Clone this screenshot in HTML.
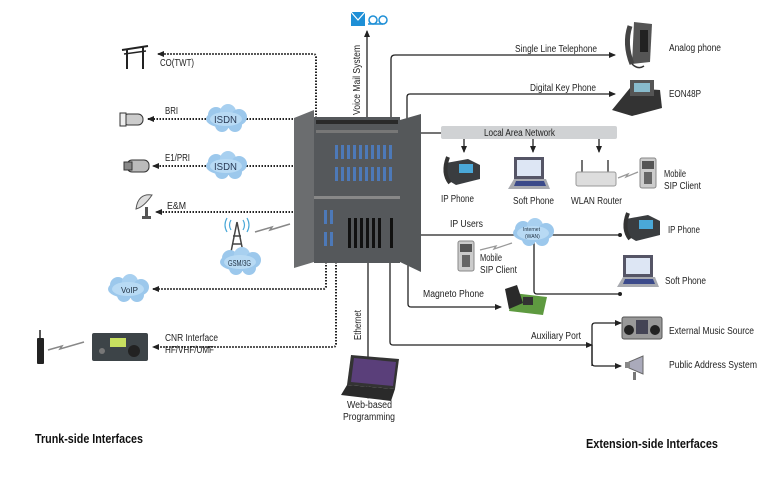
<!DOCTYPE html>
<html><head><meta charset="utf-8">
<style>
html,body{margin:0;padding:0;background:#fff;}
svg{display:block;}
text{font-family:"Liberation Sans",sans-serif;font-size:10px;fill:#222;}
.b{font-weight:bold;font-size:12.5px;fill:#111;}
.dot{stroke:#222;stroke-width:2;stroke-dasharray:1.5 1.5;fill:none;}
.ln{stroke:#222;stroke-width:1.3;fill:none;}
</style></head><body>
<svg width="768" height="477" viewBox="0 0 768 477" xmlns="http://www.w3.org/2000/svg">
<defs>
<marker id="a" markerUnits="userSpaceOnUse" markerWidth="7" markerHeight="6" refX="6" refY="3" orient="auto"><path d="M0,0 L7,3 L0,6z" fill="#222"/></marker>
<g id="cloud"><ellipse cx="0" cy="0" rx="20" ry="9" fill="#9cc8ec"/><circle cx="-10" cy="-4" r="8" fill="#9cc8ec"/><circle cx="2" cy="-7" r="8" fill="#a8d0f0"/><circle cx="13" cy="-2" r="8" fill="#9cc8ec"/><circle cx="-4" cy="6" r="7" fill="#9cc8ec"/><circle cx="9" cy="6" r="7" fill="#9cc8ec"/><ellipse cx="0" cy="0" rx="16" ry="7" fill="#b8daf4"/></g>
<g id="desk"><path d="M0,8 L22,4 L34,10 L34,24 L10,30 L0,24z" fill="#3a3d40"/><rect x="13" y="9" width="14" height="9" fill="#4aa8d8"/><path d="M2,2 Q-4,18 4,28" stroke="#333" stroke-width="4" fill="none"/></g>
<g id="lap"><rect x="6" y="0" width="30" height="22" fill="#556" /><rect x="9" y="3" width="24" height="16" fill="#dde6f4"/><path d="M0,32 L6,22 L38,22 L42,32z" fill="#a8aab0"/><path d="M8,24 L36,24 L38,29 L6,29z" fill="#3b4a8a"/></g>
<g id="mob"><rect x="0" y="0" width="16" height="30" rx="2" fill="#ccc" stroke="#888"/><rect x="2" y="3" width="12" height="8" fill="#555"/><rect x="4" y="14" width="8" height="12" fill="#666"/></g>
</defs>

<!-- Voice mail icon -->
<rect x="351" y="12" width="14" height="14" fill="#1e8fd6"/>
<path d="M351,12 L358,20 L365,12" stroke="#fff" stroke-width="1.2" fill="none"/>
<circle cx="373" cy="20" r="4" fill="none" stroke="#1e8fd6" stroke-width="1.5"/>
<circle cx="383" cy="20" r="4" fill="none" stroke="#1e8fd6" stroke-width="1.5"/>
<line x1="368" y1="24" x2="383" y2="24" stroke="#1e8fd6" stroke-width="1.5"/>
<path class="ln" d="M367,118 L367,31" marker-end="url(#a)"/>
<text transform="translate(360,115) rotate(-90)" textLength="70" lengthAdjust="spacingAndGlyphs">Voice Mail System</text>

<!-- trunk side lines -->
<path class="dot" d="M316,118 L316,57 Q316,54 313,54 L158,54" marker-end="url(#a)"/>
<g transform="translate(122,46)"><line x1="0" y1="4" x2="26" y2="0" stroke="#222" stroke-width="2"/><line x1="2" y1="8" x2="24" y2="5" stroke="#222" stroke-width="1.5"/><line x1="5" y1="3" x2="5" y2="23" stroke="#222" stroke-width="2"/><line x1="21" y1="1" x2="21" y2="23" stroke="#222" stroke-width="2"/></g>
<text x="160" y="66" textLength="34" lengthAdjust="spacingAndGlyphs">CO(TWT)</text>

<path class="dot" d="M308,119 L148,119" marker-end="url(#a)"/>
<g transform="translate(120,112)"><rect x="3" y="2" width="20" height="11" rx="5" fill="#ccc" stroke="#333"/><rect x="0" y="1" width="6" height="13" fill="#eee" stroke="#333"/></g>
<text x="165" y="114" textLength="13" lengthAdjust="spacingAndGlyphs">BRI</text>
<use href="#cloud" x="226" y="119"/>
<text x="214" y="123" textLength="23" lengthAdjust="spacingAndGlyphs" style="fill:#2a3a55">ISDN</text>

<path class="dot" d="M296,166 L153,166" marker-end="url(#a)"/>
<g transform="translate(124,159)"><rect x="3" y="1" width="22" height="12" rx="5" fill="#bbb" stroke="#333"/><rect x="0" y="3" width="8" height="8" fill="#888" stroke="#333"/></g>
<text x="165" y="161" textLength="25" lengthAdjust="spacingAndGlyphs">E1/PRI</text>
<use href="#cloud" x="226" y="166"/>
<text x="214" y="170" textLength="23" lengthAdjust="spacingAndGlyphs" style="fill:#2a3a55">ISDN</text>

<path class="dot" d="M296,212 L156,212" marker-end="url(#a)"/>
<g transform="translate(134,195)"><path d="M2,14 Q4,-2 18,0 Q10,12 2,14z" fill="#ddd" stroke="#555"/><rect x="11" y="12" width="3" height="10" fill="#555"/><rect x="8" y="21" width="9" height="3" fill="#555"/></g>
<text x="167" y="209" textLength="19" lengthAdjust="spacingAndGlyphs">E&amp;M</text>

<!-- GSM -->
<g transform="translate(237,222)"><path d="M0,0 L-6,30 M0,0 L6,30 M-4,14 L4,14 M-5,22 L5,22" stroke="#444" stroke-width="1.5" fill="none"/><path d="M-6,-2 Q-9,3 -6,8 M6,-2 Q9,3 6,8 M-10,-4 Q-14,3 -10,10 M10,-4 Q14,3 10,10" stroke="#4aa8d8" stroke-width="1.2" fill="none"/></g>
<path d="M255,232 L272,227 L270,230 L290,224" stroke="#888" stroke-width="1.5" fill="none"/>
<use href="#cloud" x="240" y="262"/>
<text x="228" y="266" textLength="23" lengthAdjust="spacingAndGlyphs" style="font-size:8px;fill:#234">GSM/3G</text>

<path class="dot" d="M326,262 L326,286 Q326,289 323,289 L153,289" marker-end="url(#a)"/>
<use href="#cloud" x="128" y="289"/>
<text x="121" y="293" style="font-size:8px;fill:#234">VoIP</text>

<path class="dot" d="M336,262 L336,344 Q336,347 333,347 L153,347" marker-end="url(#a)"/>
<text x="165" y="341" textLength="53" lengthAdjust="spacingAndGlyphs">CNR Interface</text>
<text x="165" y="353" textLength="49" lengthAdjust="spacingAndGlyphs">HF/VHF/UMF</text>
<g transform="translate(92,333)"><rect x="0" y="0" width="56" height="28" rx="2" fill="#3d4448"/><rect x="18" y="5" width="16" height="9" fill="#c8e060"/><circle cx="42" cy="18" r="6" fill="#222"/><circle cx="10" cy="18" r="3" fill="#777"/></g>
<g transform="translate(37,330)"><rect x="0" y="8" width="7" height="26" rx="1" fill="#222"/><line x1="3" y1="0" x2="3" y2="8" stroke="#222" stroke-width="1.5"/></g>
<path d="M48,350 L62,346 L60,349 L84,342" stroke="#888" stroke-width="1.5" fill="none"/>

<!-- Ethernet -->
<path class="ln" d="M368,262 L368,398" marker-end="url(#a)"/>
<text transform="translate(361,340) rotate(-90)" textLength="30" lengthAdjust="spacingAndGlyphs">Ethernet</text>
<g transform="translate(347,355)"><path d="M4,0 L52,4 L48,34 L0,30z" fill="#333"/><path d="M7,3 L49,7 L46,31 L4,27z" fill="#5a3f7a"/><path d="M0,30 L48,34 L44,46 L-6,40z" fill="#2a2a2a"/></g>
<text x="347" y="408" textLength="45" lengthAdjust="spacingAndGlyphs">Web-based</text>
<text x="343" y="420" textLength="52" lengthAdjust="spacingAndGlyphs">Programming</text>

<!-- Extension lines -->
<path class="ln" d="M391,118 L391,59 Q391,55 395,55 L615,55" marker-end="url(#a)"/>
<text x="515" y="52" textLength="82" lengthAdjust="spacingAndGlyphs">Single Line Telephone</text>
<g transform="translate(628,22)"><path d="M6,0 L24,2 L22,40 L4,42z" fill="#555"/><path d="M2,4 Q-4,22 4,42" stroke="#444" stroke-width="5" fill="none"/><rect x="12" y="8" width="8" height="22" fill="#222"/><path d="M4,42 Q10,48 16,44" stroke="#333" stroke-width="1.5" fill="none"/></g>
<text x="669" y="51" textLength="52" lengthAdjust="spacingAndGlyphs">Analog phone</text>

<path class="ln" d="M407,120 L407,97 Q407,94 410,94 L615,94" marker-end="url(#a)"/>
<text x="530" y="91" textLength="66" lengthAdjust="spacingAndGlyphs">Digital Key Phone</text>
<g transform="translate(612,80)"><path d="M0,30 L18,8 L48,10 L50,28 L20,36z" fill="#333"/><rect x="18" y="0" width="24" height="16" fill="#555"/><rect x="22" y="3" width="16" height="9" fill="#8bc"/></g>
<text x="669" y="97" textLength="32" lengthAdjust="spacingAndGlyphs">EON48P</text>

<path class="ln" d="M420,133 L441,133"/>
<rect x="441" y="126" width="176" height="13" rx="2" fill="#d0d2d4"/>
<text x="484" y="136" textLength="71" lengthAdjust="spacingAndGlyphs">Local Area Network</text>
<path class="ln" d="M464,139 L464,152" marker-end="url(#a)"/>
<path class="ln" d="M533,139 L533,152" marker-end="url(#a)"/>
<path class="ln" d="M599,139 L599,152" marker-end="url(#a)"/>
<use href="#desk" x="446" y="155"/>
<text x="441" y="202" textLength="33" lengthAdjust="spacingAndGlyphs">IP Phone</text>
<use href="#lap" x="508" y="157"/>
<text x="513" y="204" textLength="41" lengthAdjust="spacingAndGlyphs">Soft Phone</text>
<g transform="translate(576,160)"><line x1="6" y1="0" x2="6" y2="12" stroke="#444" stroke-width="1.5"/><line x1="32" y1="0" x2="32" y2="12" stroke="#444" stroke-width="1.5"/><rect x="0" y="12" width="40" height="14" rx="2" fill="#ddd" stroke="#999"/></g>
<text x="571" y="204" textLength="51" lengthAdjust="spacingAndGlyphs">WLAN Router</text>
<path d="M618,178 L628,174 L626,177 L638,172" stroke="#999" stroke-width="1.3" fill="none"/>
<use href="#mob" x="640" y="158"/>
<text x="664" y="177" textLength="22" lengthAdjust="spacingAndGlyphs">Mobile</text>
<text x="664" y="189" textLength="37" lengthAdjust="spacingAndGlyphs">SIP Client</text>

<path class="ln" d="M420,235 L516,235"/>
<text x="450" y="227" textLength="33" lengthAdjust="spacingAndGlyphs">IP Users</text>
<path class="ln" d="M550,235 L620,235"/>
<circle cx="620" cy="235" r="2" fill="#222"/>
<path class="ln" d="M534,242 L534,291 Q534,294 537,294 L620,294"/>
<circle cx="620" cy="294" r="2" fill="#222"/>
<use href="#cloud" x="533" y="233"/>
<text x="523" y="231" style="font-size:5px;fill:#234">Internet</text>
<text x="525" y="238" style="font-size:5px;fill:#234">(WAN)</text>
<use href="#desk" x="626" y="211"/>
<text x="668" y="233" textLength="32" lengthAdjust="spacingAndGlyphs">IP Phone</text>
<use href="#lap" x="617" y="255"/>
<text x="665" y="284" textLength="41" lengthAdjust="spacingAndGlyphs">Soft Phone</text>
<use href="#mob" x="458" y="241"/>
<path d="M480,250 L496,246 L494,249 L512,243" stroke="#999" stroke-width="1.3" fill="none"/>
<text x="480" y="261" textLength="22" lengthAdjust="spacingAndGlyphs">Mobile</text>
<text x="480" y="273" textLength="37" lengthAdjust="spacingAndGlyphs">SIP Client</text>

<path class="ln" d="M408,262 L408,304 Q408,307 411,307 L501,307" marker-end="url(#a)"/>
<text x="423" y="297" textLength="61" lengthAdjust="spacingAndGlyphs">Magneto Phone</text>
<g transform="translate(503,285)"><path d="M10,8 L44,12 L40,30 L6,26z" fill="#5e9a40"/><path d="M2,4 L14,0 L20,18 L6,24z" fill="#2a2a2a"/><rect x="20" y="12" width="10" height="8" fill="#333"/></g>

<path class="ln" d="M390,262 L390,342 Q390,345 393,345 L592,345" marker-end="url(#a)"/>
<text x="531" y="339" textLength="50" lengthAdjust="spacingAndGlyphs">Auxiliary Port</text>
<path class="ln" d="M592,366 L592,326 Q592,323 595,323 L621,323" marker-end="url(#a)"/>
<path class="ln" d="M592,345 L592,363 Q592,366 595,366 L621,366" marker-end="url(#a)"/>
<g transform="translate(622,314)"><rect x="0" y="3" width="40" height="22" rx="2" fill="#999" stroke="#555"/><circle cx="7" cy="16" r="5" fill="#222"/><circle cx="33" cy="16" r="5" fill="#222"/><rect x="14" y="6" width="12" height="14" fill="#445"/></g>
<text x="669" y="334" textLength="85" lengthAdjust="spacingAndGlyphs">External Music Source</text>
<g transform="translate(625,354)"><path d="M4,8 L18,2 L18,20 L4,14z" fill="#aab" stroke="#666"/><rect x="0" y="8" width="5" height="6" fill="#888"/><rect x="8" y="18" width="3" height="8" fill="#777"/></g>
<text x="669" y="368" textLength="88" lengthAdjust="spacingAndGlyphs">Public Address System</text>

<!-- cabinet -->
<path d="M294,118 L314,110 L314,262 L294,268z" fill="#6b6d6f"/>
<rect x="314" y="117" width="86" height="146" fill="#55585b"/>
<rect x="316" y="120" width="82" height="4" fill="#2a2a2a"/>
<rect x="316" y="130" width="82" height="3" fill="#777"/>
<g fill="#4d79b8">
<rect x="335" y="145" width="3" height="14"/><rect x="341" y="145" width="3" height="14"/><rect x="347" y="145" width="3" height="14"/><rect x="353" y="145" width="3" height="14"/><rect x="359" y="145" width="3" height="14"/><rect x="365" y="145" width="3" height="14"/><rect x="371" y="145" width="3" height="14"/><rect x="377" y="145" width="3" height="14"/><rect x="383" y="145" width="3" height="14"/><rect x="389" y="145" width="3" height="14"/>
<rect x="335" y="167" width="3" height="14"/><rect x="341" y="167" width="3" height="14"/><rect x="347" y="167" width="3" height="14"/><rect x="353" y="167" width="3" height="14"/><rect x="359" y="167" width="3" height="14"/><rect x="365" y="167" width="3" height="14"/><rect x="371" y="167" width="3" height="14"/><rect x="377" y="167" width="3" height="14"/><rect x="383" y="167" width="3" height="14"/><rect x="389" y="167" width="3" height="14"/>
<rect x="324" y="210" width="3" height="14"/><rect x="330" y="210" width="3" height="14"/><rect x="324" y="232" width="3" height="14"/><rect x="330" y="232" width="3" height="14"/>
</g>
<rect x="314" y="196" width="86" height="3" fill="#888"/>
<g fill="#111"><rect x="348" y="218" width="3" height="30"/><rect x="354" y="218" width="3" height="30"/><rect x="360" y="218" width="3" height="30"/><rect x="366" y="218" width="3" height="30"/><rect x="372" y="218" width="3" height="30"/><rect x="378" y="218" width="3" height="30"/><rect x="390" y="218" width="3" height="30"/></g>
<path d="M400,120 L421,114 L421,272 L400,262z" fill="#55585a"/>

<text class="b" x="35" y="443" textLength="108" lengthAdjust="spacingAndGlyphs">Trunk-side Interfaces</text>
<text class="b" x="586" y="448" textLength="132" lengthAdjust="spacingAndGlyphs">Extension-side Interfaces</text>
</svg>
</body></html>
